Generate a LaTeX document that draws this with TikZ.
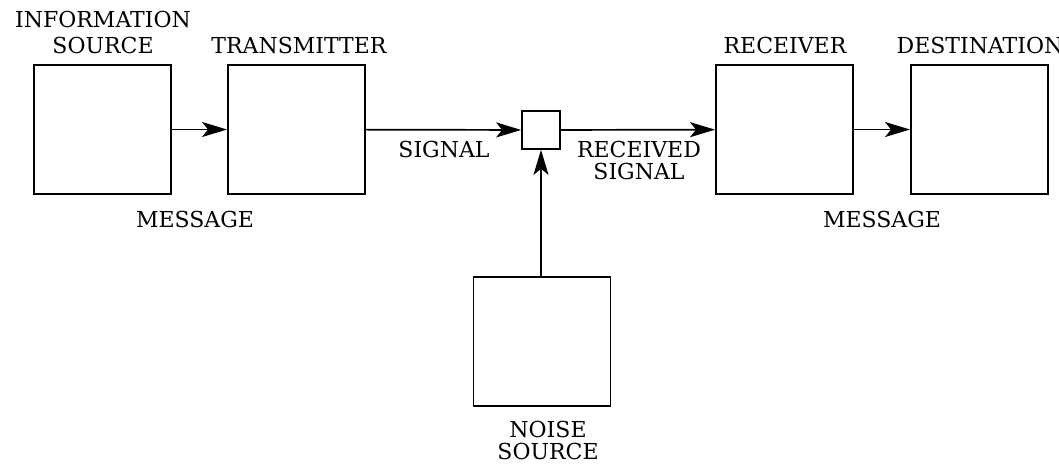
\documentclass[tikz,border=0pt]{standalone}
\usepackage{fontspec}
\setmainfont{DejaVu Serif}
\usetikzlibrary{arrows.meta}
\begin{document}
\begin{tikzpicture}[x=1pt,y=-1pt,
  blk/.style={draw, line width=1.9pt, inner sep=0pt, minimum width=137pt, minimum height=129pt},
  sm/.style={draw, line width=1.7pt, inner sep=0pt, minimum width=38pt, minimum height=38pt},
  lbl/.style={font=\fontsize{22}{22}\selectfont, inner sep=0pt, anchor=base, align=center},
  conn/.style={line width=1.7pt, -{Stealth[length=25pt, width=15pt, inset=6pt]}}]
\useasboundingbox (0,0) rectangle (1059,472);
\node[blk] (src) at (102.5,129.5) {};
\node[blk] (tx) at (296.5,129.5) {};
\node[sm] (mix) at (541,130) {};
\node[blk] (rx) at (784.5,129.5) {};
\node[blk] (dst) at (979.5,129.5) {};
\node[blk] (noise) at (542,341.5) {};
\draw[conn] (src) -- (tx);
\draw[conn] (tx) -- (mix);
\draw[conn] (mix) -- (rx);
\draw[conn] (rx) -- (dst);
\draw[conn] (noise.north -| mix) -- (mix);
\node[lbl] (l1) at (103,27) {INFORMATION};
\node[lbl] (l2) at (103,53) {SOURCE};
\node[lbl] (l3) at (299,53) {TRANSMITTER};
\node[lbl] (l4) at (785,53) {RECEIVER};
\node[lbl] (l5) at (980,53) {DESTINATION};
\node[lbl] (l6) at (195,227) {MESSAGE};
\node[lbl] (l7) at (882,227) {MESSAGE};
\node[lbl] (l8) at (444,157) {SIGNAL};
\node[lbl] (l9) at (639,157) {RECEIVED};
\node[lbl] (l10) at (639,179) {SIGNAL};
\node[lbl] (l11) at (548,437) {NOISE};
\node[lbl] (l12) at (548,459) {SOURCE};
\end{tikzpicture}
\end{document}
